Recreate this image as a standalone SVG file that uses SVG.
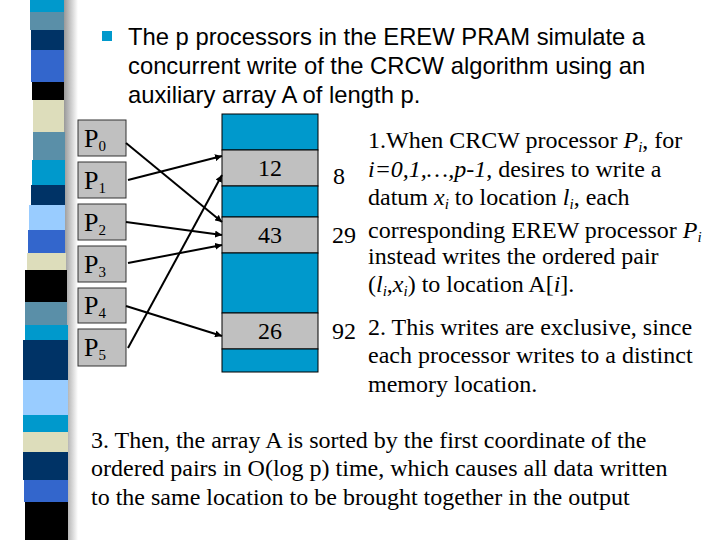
<svg xmlns="http://www.w3.org/2000/svg" width="720" height="540" viewBox="0 0 720 540">
<defs>
<linearGradient id="sh" x1="0" x2="1"><stop offset="0" stop-color="#999"/><stop offset="1" stop-color="#fff"/></linearGradient>
<marker id="ah" viewBox="0 0 10 10" refX="10" refY="5" markerWidth="7" markerHeight="7" orient="auto" markerUnits="userSpaceOnUse"><path d="M0,0L10,5L0,10z" fill="#000"/></marker>
<style>
.p{fill:#c0c0c0;stroke:#333;stroke-width:1}
.pt{font-family:"Liberation Serif",serif;font-size:26px;fill:#000}
.sub{font-size:15px}
.blue{fill:#0099cc;stroke:#000;stroke-width:1}
.gray{fill:#c0c0c0;stroke:#000;stroke-width:1}
.s{font-family:"Liberation Serif",serif;font-size:24px;fill:#000}
.h{font-family:"Liberation Sans",sans-serif;font-size:23.8px;fill:#000}
.c line{stroke:#000;stroke-width:2;marker-end:url(#ah)}
</style>
</defs>
<rect width="720" height="540" fill="#fff"/>
<g id="bar">
<rect x="64" y="0" width="14" height="540" fill="url(#sh)"/>
<rect x="30" y="0" width="34" height="12" fill="#0099cc"/>
<rect x="30" y="12" width="34" height="18" fill="#5a8fa8"/>
<rect x="31" y="30" width="33" height="20" fill="#003366"/>
<rect x="31" y="50" width="33" height="32" fill="#3366cc"/>
<rect x="32" y="82" width="32" height="18" fill="#000"/>
<rect x="33" y="100" width="31" height="32" fill="#ddddbb"/>
<rect x="33" y="132" width="32" height="28" fill="#5a8fa8"/>
<rect x="32" y="160" width="33" height="25" fill="#0099cc"/>
<rect x="31" y="185" width="34" height="20" fill="#003366"/>
<rect x="29" y="205" width="36" height="25" fill="#99ccff"/>
<rect x="28" y="230" width="37" height="23" fill="#3366cc"/>
<rect x="27" y="253" width="39" height="17" fill="#ddddbb"/>
<rect x="25" y="270" width="42" height="32" fill="#000"/>
<rect x="25" y="302" width="42" height="23" fill="#5a8fa8"/>
<rect x="25" y="325" width="43" height="15" fill="#0099cc"/>
<rect x="23" y="340" width="45" height="40" fill="#003366"/>
<rect x="23" y="380" width="45" height="35" fill="#99ccff"/>
<rect x="23" y="415" width="45" height="17" fill="#0099cc"/>
<rect x="23" y="432" width="45" height="20" fill="#ddddbb"/>
<rect x="23" y="452" width="45" height="28" fill="#003366"/>
<rect x="24" y="480" width="44" height="22" fill="#3366cc"/>
<rect x="25" y="502" width="43" height="38" fill="#000"/>
</g>
<g id="header">
<rect x="102" y="31" width="10" height="10" fill="#0099cc"/>
<text class="h" x="128" y="45">The p processors in the EREW PRAM simulate a</text>
<text class="h" x="128" y="74">concurrent write of the CRCW algorithm using an</text>
<text class="h" x="128" y="103">auxiliary array A of length p.</text>
</g>
<g id="P0"><rect class="p" x="78" y="120" width="48" height="36"/><text class="pt" x="84" y="147">P<tspan class="sub" dy="4">0</tspan></text></g>
<g id="P1"><rect class="p" x="78" y="162" width="48" height="36"/><text class="pt" x="84" y="189">P<tspan class="sub" dy="4">1</tspan></text></g>
<g id="P2"><rect class="p" x="78" y="204" width="48" height="36"/><text class="pt" x="84" y="231">P<tspan class="sub" dy="4">2</tspan></text></g>
<g id="P3"><rect class="p" x="78" y="246" width="48" height="36"/><text class="pt" x="84" y="273">P<tspan class="sub" dy="4">3</tspan></text></g>
<g id="P4"><rect class="p" x="78" y="288" width="48" height="35"/><text class="pt" x="84" y="314">P<tspan class="sub" dy="4">4</tspan></text></g>
<g id="P5"><rect class="p" x="78" y="329" width="48" height="37"/><text class="pt" x="84" y="356">P<tspan class="sub" dy="4">5</tspan></text></g>
<g id="array">
<rect class="blue" x="222" y="114" width="96" height="36"/>
<rect class="gray" x="222" y="150" width="96" height="36"/>
<rect class="blue" x="222" y="186" width="96" height="31"/>
<rect class="gray" x="222" y="217" width="96" height="36"/>
<rect class="blue" x="222" y="253" width="96" height="60"/>
<rect class="gray" x="222" y="313" width="96" height="36"/>
<rect class="blue" x="222" y="349" width="96" height="23"/>
<text class="s" x="270" y="176" text-anchor="middle">12</text>
<text class="s" x="270" y="243" text-anchor="middle">43</text>
<text class="s" x="270" y="339" text-anchor="middle">26</text>
</g>
<g class="c" id="connectors">
<line x1="126" y1="143" x2="222" y2="222"/>
<line x1="128" y1="180" x2="222" y2="156"/>
<line x1="126" y1="222" x2="222" y2="235"/>
<line x1="128" y1="263" x2="222" y2="245"/>
<line x1="126" y1="306" x2="222" y2="336"/>
<line x1="128" y1="348" x2="222" y2="175"/>
</g>
<g id="labels">
<text class="s" x="333" y="184">8</text>
<text class="s" x="332" y="243">29</text>
<text class="s" x="332" y="339">92</text>
<text class="s" x="368" y="148">1.When CRCW processor <tspan font-style="italic">P<tspan class="sub" dy="4">i</tspan></tspan><tspan dy="-4">, for</tspan></text>
<text class="s" x="368" y="177" font-style="italic">i=0,1,…,p-1<tspan font-style="normal">, desires to write a</tspan></text>
<text class="s" x="368" y="205">datum <tspan font-style="italic">x<tspan class="sub" dy="4">i</tspan></tspan><tspan dy="-4"> to location </tspan><tspan font-style="italic">l<tspan class="sub" dy="4">i</tspan></tspan><tspan dy="-4">, each</tspan></text>
<text class="s" x="368" y="238">corresponding EREW processor <tspan font-style="italic">P<tspan class="sub" dy="4">i</tspan></tspan></text>
<text class="s" x="368" y="264">instead writes the ordered pair</text>
<text class="s" x="368" y="292">(<tspan font-style="italic">l<tspan class="sub" dy="4">i</tspan></tspan><tspan dy="-4">,</tspan><tspan font-style="italic">x<tspan class="sub" dy="4">i</tspan></tspan><tspan dy="-4">) to location A[</tspan><tspan font-style="italic">i</tspan>].</text>
<text class="s" x="368" y="335">2. This writes are exclusive, since</text>
<text class="s" x="368" y="363">each processor writes to a distinct</text>
<text class="s" x="368" y="392">memory location.</text>
<text class="s" x="91" y="448">3. Then, the array A is sorted by the first coordinate of the</text>
<text class="s" x="91" y="476">ordered pairs in O(log p) time, which causes all data written</text>
<text class="s" x="91" y="505">to the same location to be brought together in the output</text>
</g>
</svg>
